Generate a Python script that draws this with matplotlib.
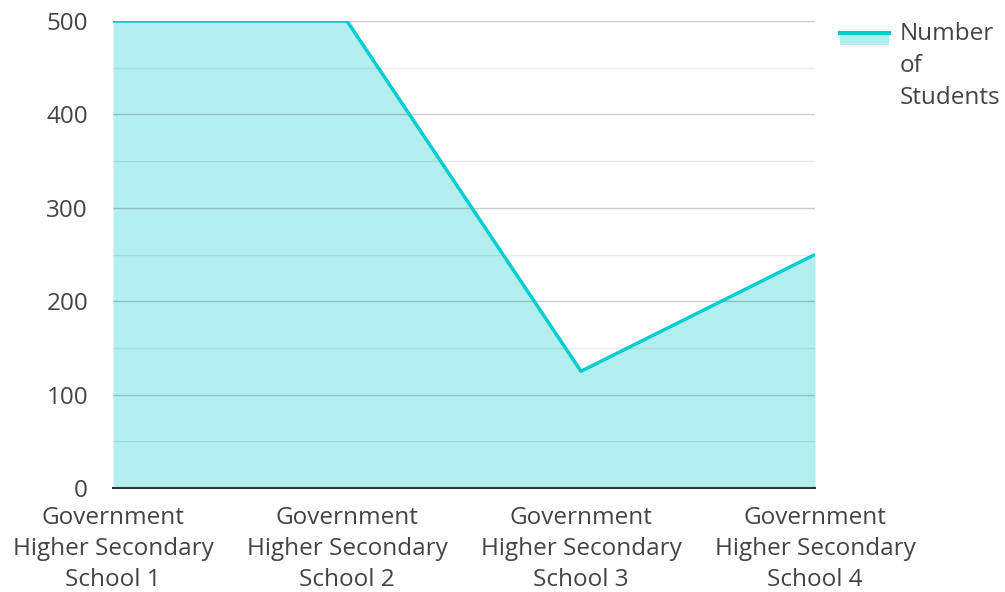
import matplotlib.pyplot as plt
from matplotlib.patches import Rectangle
from matplotlib.lines import Line2D

schools = ["Government\nHigher Secondary\nSchool 1", "Government\nHigher Secondary\nSchool 2",
           "Government\nHigher Secondary\nSchool 3", "Government\nHigher Secondary\nSchool 4"]
students = [500, 500, 125, 250]
yticks = [0, 100, 200, 300, 400, 500]

plt.rcParams['font.family'] = ['Open Sans', 'DejaVu Sans']
line_col = '#00cdd0'
fill_col = '#b2efee'
txt_col = '#444444'
fs = 17.5

fig = plt.figure(figsize=(10.05, 5.92), dpi=100)
ax = fig.add_axes([113/1005, 1 - 488/592, (815-113)/1005, (488-21)/592])

x = list(range(len(schools)))
ax.fill_between(x, students, 0, color=fill_col, lw=0, zorder=1)
ax.plot(x, students, color=line_col, lw=2.5, zorder=3, solid_capstyle='butt')

ax.set_xlim(0, 3)
ax.set_ylim(0, 500)
ax.set_yticks(yticks)
ax.set_yticks([50, 150, 250, 350, 450], minor=True)
ax.grid(True, which='major', axis='y', color='black', alpha=0.2, lw=1, zorder=2)
ax.grid(True, which='minor', axis='y', color='black', alpha=0.08, lw=1, zorder=2)
ax.set_axisbelow(False)

ax.set_xticks(x)
ax.set_xticklabels(schools, fontsize=fs, color=txt_col, linespacing=1.4)
ax.tick_params(axis='y', which='both', length=0, labelsize=fs, labelcolor=txt_col, pad=18)
ax.tick_params(axis='x', length=0, pad=13)
for s in ['top', 'right', 'left']:
    ax.spines[s].set_visible(False)
ax.spines['bottom'].set_color('#333333')
ax.spines['bottom'].set_linewidth(1.5)
ax.spines['bottom'].set_zorder(4)

# legend drawn by hand
fig.add_artist(Rectangle((840/1005, 1 - 45/592), 49/1005, 12/592, transform=fig.transFigure,
                         color=fill_col, lw=0))
fig.add_artist(Line2D([840/1005, 889/1005], [1 - 33/592, 1 - 33/592], transform=fig.transFigure,
                      color=line_col, lw=3))
fig.text(900/1005, 1 - 22/592, "Number\nof\nStudents", fontsize=fs, color=txt_col,
         va='top', ha='left', linespacing=1.45)

fig.savefig("out.png", dpi=100)
